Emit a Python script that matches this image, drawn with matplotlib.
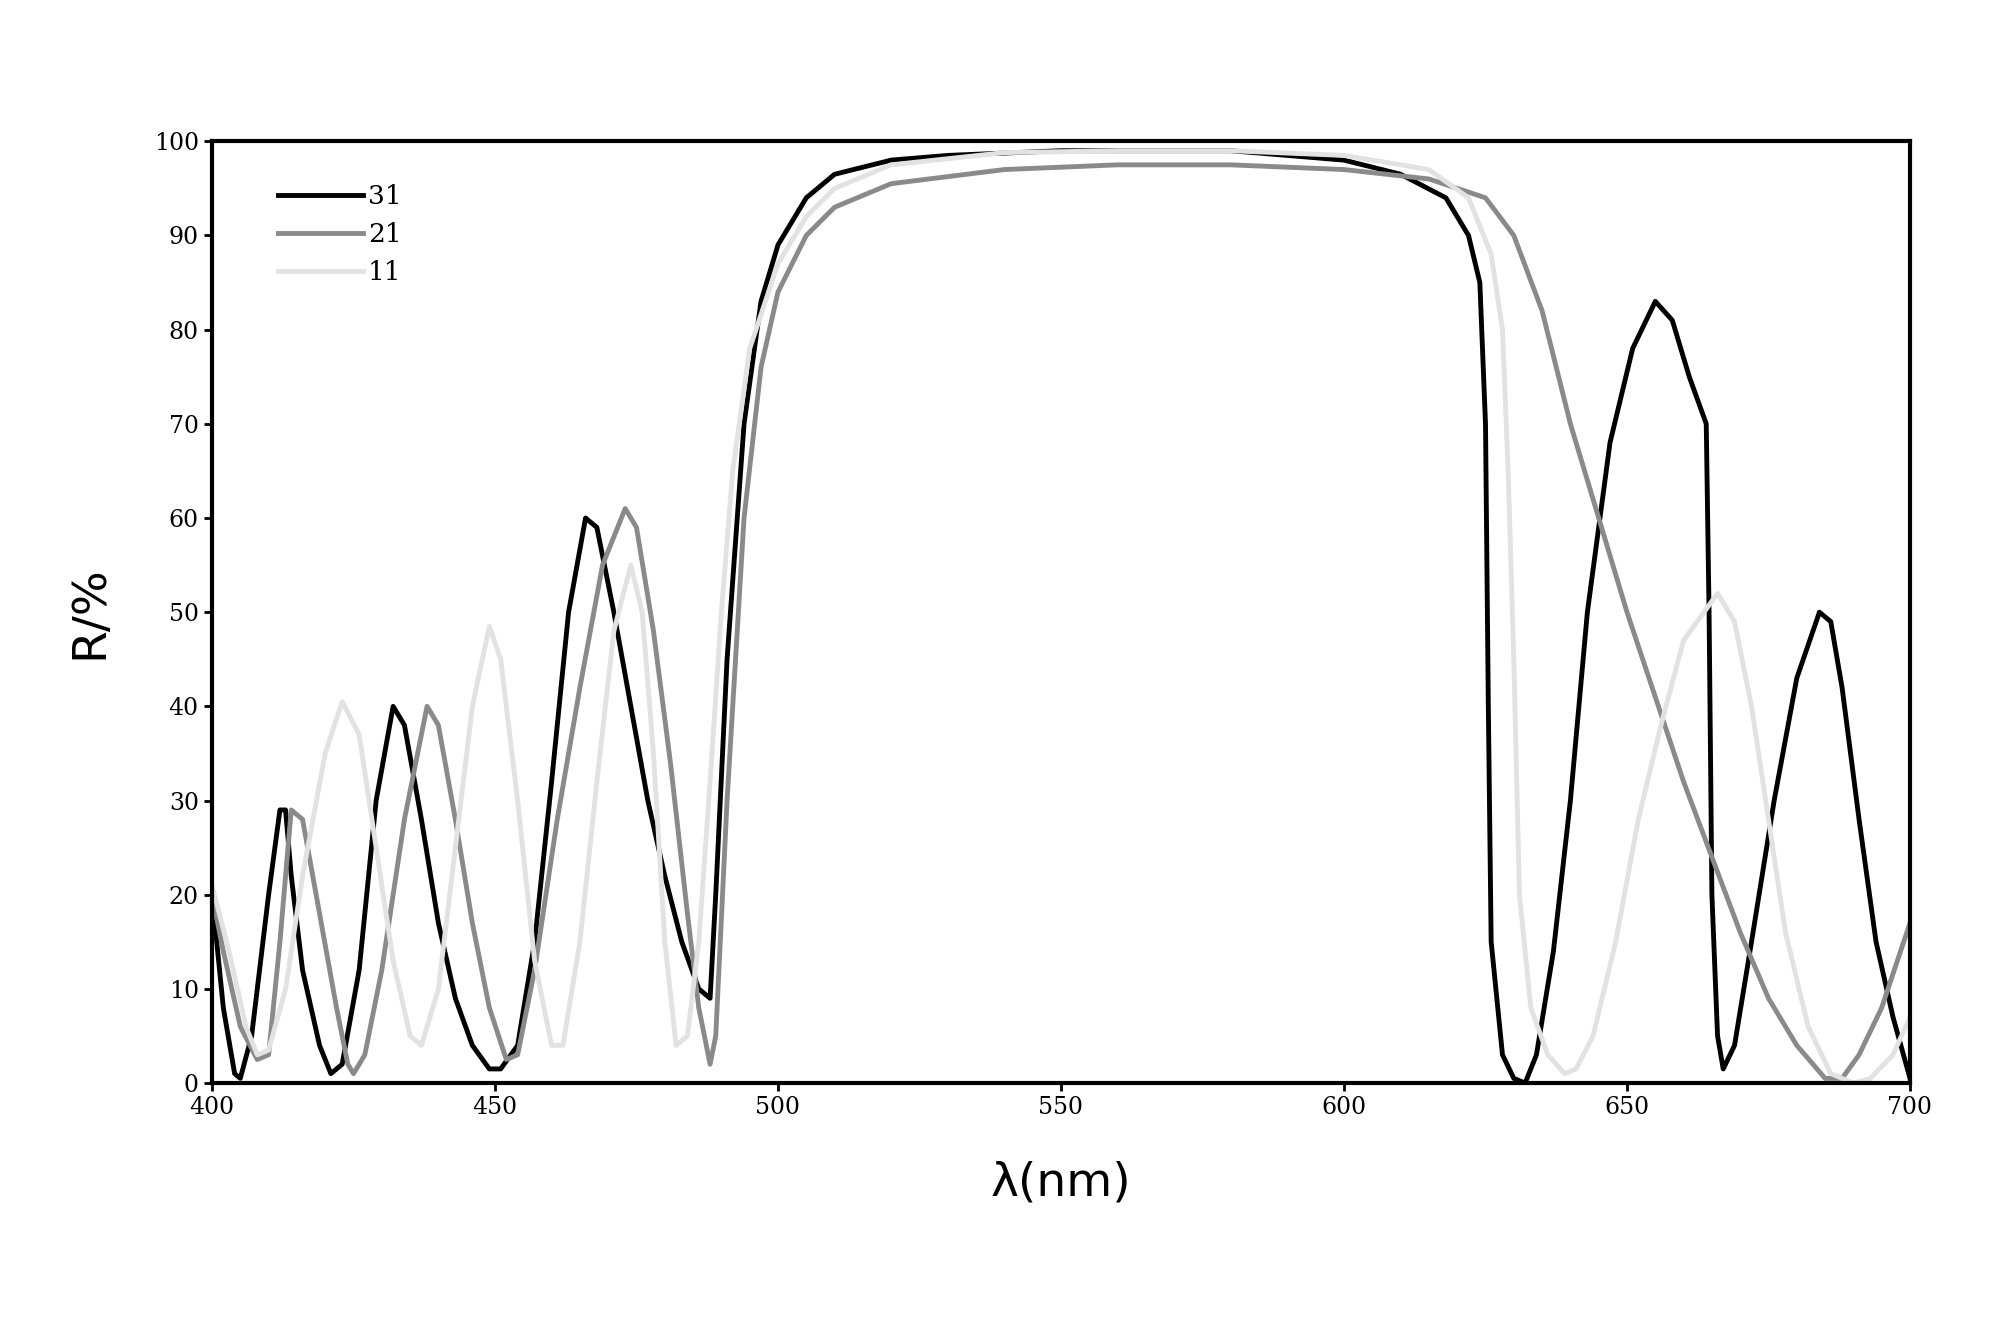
import matplotlib
matplotlib.use("Agg")
import matplotlib.pyplot as plt

x31 = [400,402,404,405,407,410,412,413,414,416,419,421,423,426,429,432,434,437,440,443,446,449,451,454,457,460,463,466,468,471,474,477,480,483,486,488,489,491,494,497,500,505,510,520,530,550,580,600,610,618,622,624,625,625.5,626,628,630,632,634,637,640,643,647,651,655,658,661,664,664.5,665,666,667,669,672,676,680,684,686,688,691,694,697,700]
y31 = [20,8,1,0.5,5,20,29,29,22,12,4,1,2,12,30,40,38,28,17,9,4,1.5,1.5,4,15,32,50,60,59,50,40,30,22,15,10,9,20,45,70,83,89,94,96.5,98,98.5,99,99,98,96.5,94,90,85,70,40,15,3,0.5,0,3,14,30,50,68,78,83,81,75,70,50,20,5,1.5,4,15,30,43,50,49,42,28,15,7,0.5]
x21 = [400,402,405,408,410,412,414,416,419,422,424,425,427,430,434,438,440,443,446,449,452,454,457,461,465,469,473,475,478,481,484,486,488,489,491,494,497,500,505,510,520,540,560,580,600,615,625,630,635,640,645,650,655,660,665,670,675,680,685,688,691,695,700]
y21 = [20,14,6,2.5,3,15,29,28,18,8,2,1,3,12,28,40,38,28,17,8,2.5,3,12,28,42,55,61,59,48,34,18,8,2,5,30,60,76,84,90,93,95.5,97,97.5,97.5,97,96,94,90,82,70,60,50,41,32,24,16,9,4,0.5,0.5,3,8,17]
x11 = [400,403,406,408,410,413,416,420,423,426,429,432,435,437,440,443,446,449,451,454,457,460,462,465,468,471,474,476,478,480,482,484,486,488,490,492,495,500,505,510,520,540,560,580,600,615,622,626,628,629,630,631,633,636,639,641,644,648,652,656,660,666,669,672,675,678,682,686,690,693,697,700]
y11 = [21,14,6,3,3.5,10,22,35,40.5,37,25,13,5,4,10,25,40,48.5,45,30,13,4,4,15,32,48,55,50,35,15,4,5,15,32,50,65,78,87,92,95,97.5,98.8,99,99,98.5,97,94,88,80,65,45,20,8,3,1,1.5,5,15,28,38,47,52,49,40,28,16,6,1,0,0.5,3,7]
labels = ["31", "21", "11"]
colors = ["#000000", "#8a8a8a", "#e2e2e2"]
xticks = [400,450,500,550,600,650,700]
yticks = list(range(0,101,10))

fig = plt.figure(figsize=(20,13.33), dpi=100)
ax = fig.add_axes([0.106,0.1875,0.849,0.7065])
for xs, ys, lab, c in zip([x31,x21,x11],[y31,y21,y11],labels,colors):
    ax.plot(xs, ys, color=c, lw=3.5, label=lab)
ax.set_xlim(400,700); ax.set_ylim(0,100)
ax.set_xticks(xticks); ax.set_yticks(yticks)
for s in ax.spines.values(): s.set_linewidth(3)
ax.tick_params(labelsize=17, width=2, length=6)
for t in ax.get_xticklabels()+ax.get_yticklabels(): t.set_family("DejaVu Serif")
ax.set_xlabel("λ(nm)", fontsize=34, labelpad=30)
ax.set_ylabel("R/%", fontsize=34, labelpad=30)
leg = ax.legend(loc="upper left", frameon=False, fontsize=19, handlelength=3.2,
                bbox_to_anchor=(0.025,0.98), handletextpad=0.2, labelspacing=0.5)
for t in leg.get_texts(): t.set_family("DejaVu Serif")
fig.savefig("out.png")
